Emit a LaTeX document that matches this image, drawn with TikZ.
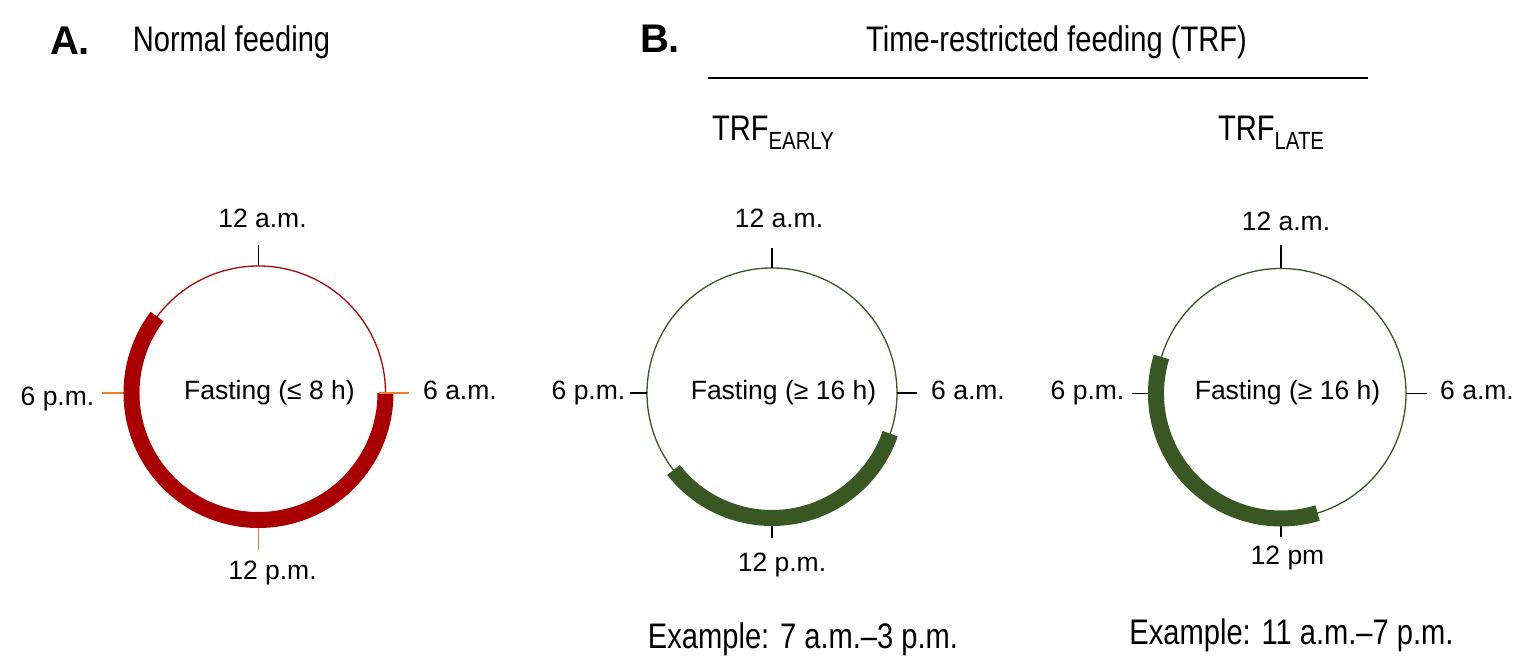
\documentclass[tikz,border=0pt]{standalone}
\usepackage{fontspec}
\setmainfont{Liberation Sans}
\newfontfamily\narrowfont[FakeStretch=0.82,Ligatures=TeX]{Liberation Sans}
\begin{document}
\begin{tikzpicture}[x=1pt,y=1pt]
\definecolor{fillColor}{RGB}{255,255,255}
\path[use as bounding box,fill=fillColor] (0,0) rectangle (1536,671);
\begin{scope}
\definecolor{drawColor}{RGB}{0,0,0}

\node (headA) [text=drawColor,anchor=base west,inner sep=0pt, outer sep=0pt, scale=  1.00] at ( 50.00,616.00) {\fontsize{40}{44}\selectfont\bfseries A.};

\node (titleA) [text=drawColor,anchor=base,inner sep=0pt, outer sep=0pt, scale=  1.00] at (231.50,619.00) {\fontsize{35.5}{40}\selectfont\narrowfont Normal feeding};

\node (headB) [text=drawColor,anchor=base west,inner sep=0pt, outer sep=0pt, scale=  1.00] at (640.00,618.00) {\fontsize{40}{44}\selectfont\bfseries B.};

\node (titleB) [text=drawColor,anchor=base,inner sep=0pt, outer sep=0pt, scale=  1.00] at (1056.50,619.00) {\fontsize{35.5}{40}\selectfont\narrowfont Time-restricted feeding (TRF)};

\path[draw=drawColor,line width= 2.5pt] (708.00,593.00) -- (1368.00,593.00);

\node (titleEarly) [text=drawColor,anchor=base west,inner sep=0pt, outer sep=0pt, scale=  1.00] at (712.00,530.00) {\fontsize{35.5}{40}\selectfont\narrowfont TRF\textsubscript{EARLY}};

\node (titleLate) [text=drawColor,anchor=base west,inner sep=0pt, outer sep=0pt, scale=  1.00] at (1218.00,530.00) {\fontsize{35.5}{40}\selectfont\narrowfont TRF\textsubscript{LATE}};

\node (exEarly) [text=drawColor,anchor=base,inner sep=0pt, outer sep=0pt, scale=  1.00] at (803.00, 22.00) {\fontsize{35.5}{40}\selectfont\narrowfont Example: 7 a.m.–3 p.m.};

\node (exLate) [text=drawColor,anchor=base,inner sep=0pt, outer sep=0pt, scale=  1.00] at (1291.50, 26.00) {\fontsize{35.5}{40}\selectfont\narrowfont Example: 11 a.m.–7 p.m.};
\end{scope}
\begin{scope}[shift={(258.50,278.00)}]
\definecolor{drawColor}{RGB}{165,10,10}
\definecolor{tickColor}{RGB}{237,125,49}

\path[draw=drawColor,line width= 1.3pt] (0,0) circle (127.00);

\path[draw=tickColor,line width= 1.3pt] (180:127.00) -- (180:157.00);

\path[draw=tickColor,line width= 1.3pt] (270:127.00) -- (270:157.00);
\definecolor{drawColor}{RGB}{168,0,0}

\path[draw=drawColor,line width=16.0pt] (143:127.00) arc[start angle=143,end angle=360,radius=127.00];

\path[draw=tickColor,line width= 1.3pt] (0:120.00) -- (0:150.00);
\definecolor{drawColor}{RGB}{0,0,0}

\path[draw=drawColor,line width= 1.3pt] (90:127.00) -- (90:148.00);
\end{scope}
\begin{scope}[shift={(772.00,278.00)}]
\definecolor{drawColor}{RGB}{56,87,35}
\definecolor{tickColor}{RGB}{0,0,0}

\path[draw=drawColor,line width= 1.3pt] (0,0) circle (125.00);

\path[draw=tickColor,line width= 1.3pt] (  0:125.00) -- (  0:145.00);

\path[draw=tickColor,line width= 1.3pt] ( 90:125.00) -- ( 90:145.00);

\path[draw=tickColor,line width= 1.3pt] (180:125.00) -- (180:142.00);

\path[draw=tickColor,line width= 1.3pt] (270:125.00) -- (270:145.00);

\path[draw=drawColor,line width=16.0pt] (218:125.00) arc[start angle=218,end angle=341,radius=125.00];
\end{scope}
\begin{scope}[shift={(1281.00,277.50)}]
\definecolor{drawColor}{RGB}{56,87,35}
\definecolor{tickColor}{RGB}{0,0,0}

\path[draw=drawColor,line width= 1.3pt] (0,0) circle (125.00);

\path[draw=tickColor,line width= 1.3pt] (  0:125.00) -- (  0:146.00);

\path[draw=tickColor,line width= 1.3pt] ( 90:125.00) -- ( 90:148.00);

\path[draw=tickColor,line width= 1.3pt] (180:125.00) -- (180:149.00);

\path[draw=tickColor,line width= 1.3pt] (270:125.00) -- (270:144.00);

\path[draw=drawColor,line width=16.0pt] (163:125.00) arc[start angle=163,end angle=287,radius=125.00];
\end{scope}
\begin{scope}
\definecolor{drawColor}{RGB}{0,0,0}

\node (amA) [text=drawColor,anchor=base,inner sep=0pt, outer sep=0pt, scale=  1.00] at (262.50,443.00) {\fontsize{26.5}{30}\selectfont 12 a.m.};

\node (eveA) [text=drawColor,anchor=base,inner sep=0pt, outer sep=0pt, scale=  1.00] at ( 57.50,265.00) {\fontsize{26.5}{30}\selectfont 6 p.m.};

\node (fastA) [text=drawColor,anchor=base,inner sep=0pt, outer sep=0pt, scale=  1.00] at (269.50,271.00) {\fontsize{26.5}{30}\selectfont Fasting (≤ 8 h)};

\node (mornA) [text=drawColor,anchor=base,inner sep=0pt, outer sep=0pt, scale=  1.00] at (460.00,271.00) {\fontsize{26.5}{30}\selectfont 6 a.m.};

\node (pmA) [text=drawColor,anchor=base,inner sep=0pt, outer sep=0pt, scale=  1.00] at (272.50, 91.00) {\fontsize{26.5}{30}\selectfont 12 p.m.};

\node (amEarly) [text=drawColor,anchor=base,inner sep=0pt, outer sep=0pt, scale=  1.00] at (779.00,443.00) {\fontsize{26.5}{30}\selectfont 12 a.m.};

\node (eveEarly) [text=drawColor,anchor=base,inner sep=0pt, outer sep=0pt, scale=  1.00] at (588.50,271.00) {\fontsize{26.5}{30}\selectfont 6 p.m.};

\node (fastEarly) [text=drawColor,anchor=base,inner sep=0pt, outer sep=0pt, scale=  1.00] at (783.50,271.00) {\fontsize{26.5}{30}\selectfont Fasting (≥ 16 h)};

\node (mornEarly) [text=drawColor,anchor=base,inner sep=0pt, outer sep=0pt, scale=  1.00] at (968.00,271.00) {\fontsize{26.5}{30}\selectfont 6 a.m.};

\node (pmEarly) [text=drawColor,anchor=base,inner sep=0pt, outer sep=0pt, scale=  1.00] at (782.00, 99.00) {\fontsize{26.5}{30}\selectfont 12 p.m.};

\node (amLate) [text=drawColor,anchor=base,inner sep=0pt, outer sep=0pt, scale=  1.00] at (1286.00,440.00) {\fontsize{26.5}{30}\selectfont 12 a.m.};

\node (eveLate) [text=drawColor,anchor=base,inner sep=0pt, outer sep=0pt, scale=  1.00] at (1087.50,271.00) {\fontsize{26.5}{30}\selectfont 6 p.m.};

\node (fastLate) [text=drawColor,anchor=base,inner sep=0pt, outer sep=0pt, scale=  1.00] at (1287.50,271.00) {\fontsize{26.5}{30}\selectfont Fasting (≥ 16 h)};

\node (mornLate) [text=drawColor,anchor=base,inner sep=0pt, outer sep=0pt, scale=  1.00] at (1477.00,271.00) {\fontsize{26.5}{30}\selectfont 6 a.m.};

\node (pmLate) [text=drawColor,anchor=base,inner sep=0pt, outer sep=0pt, scale=  1.00] at (1287.50,106.00) {\fontsize{26.5}{30}\selectfont 12 pm};
\end{scope}
\end{tikzpicture}
\end{document}
